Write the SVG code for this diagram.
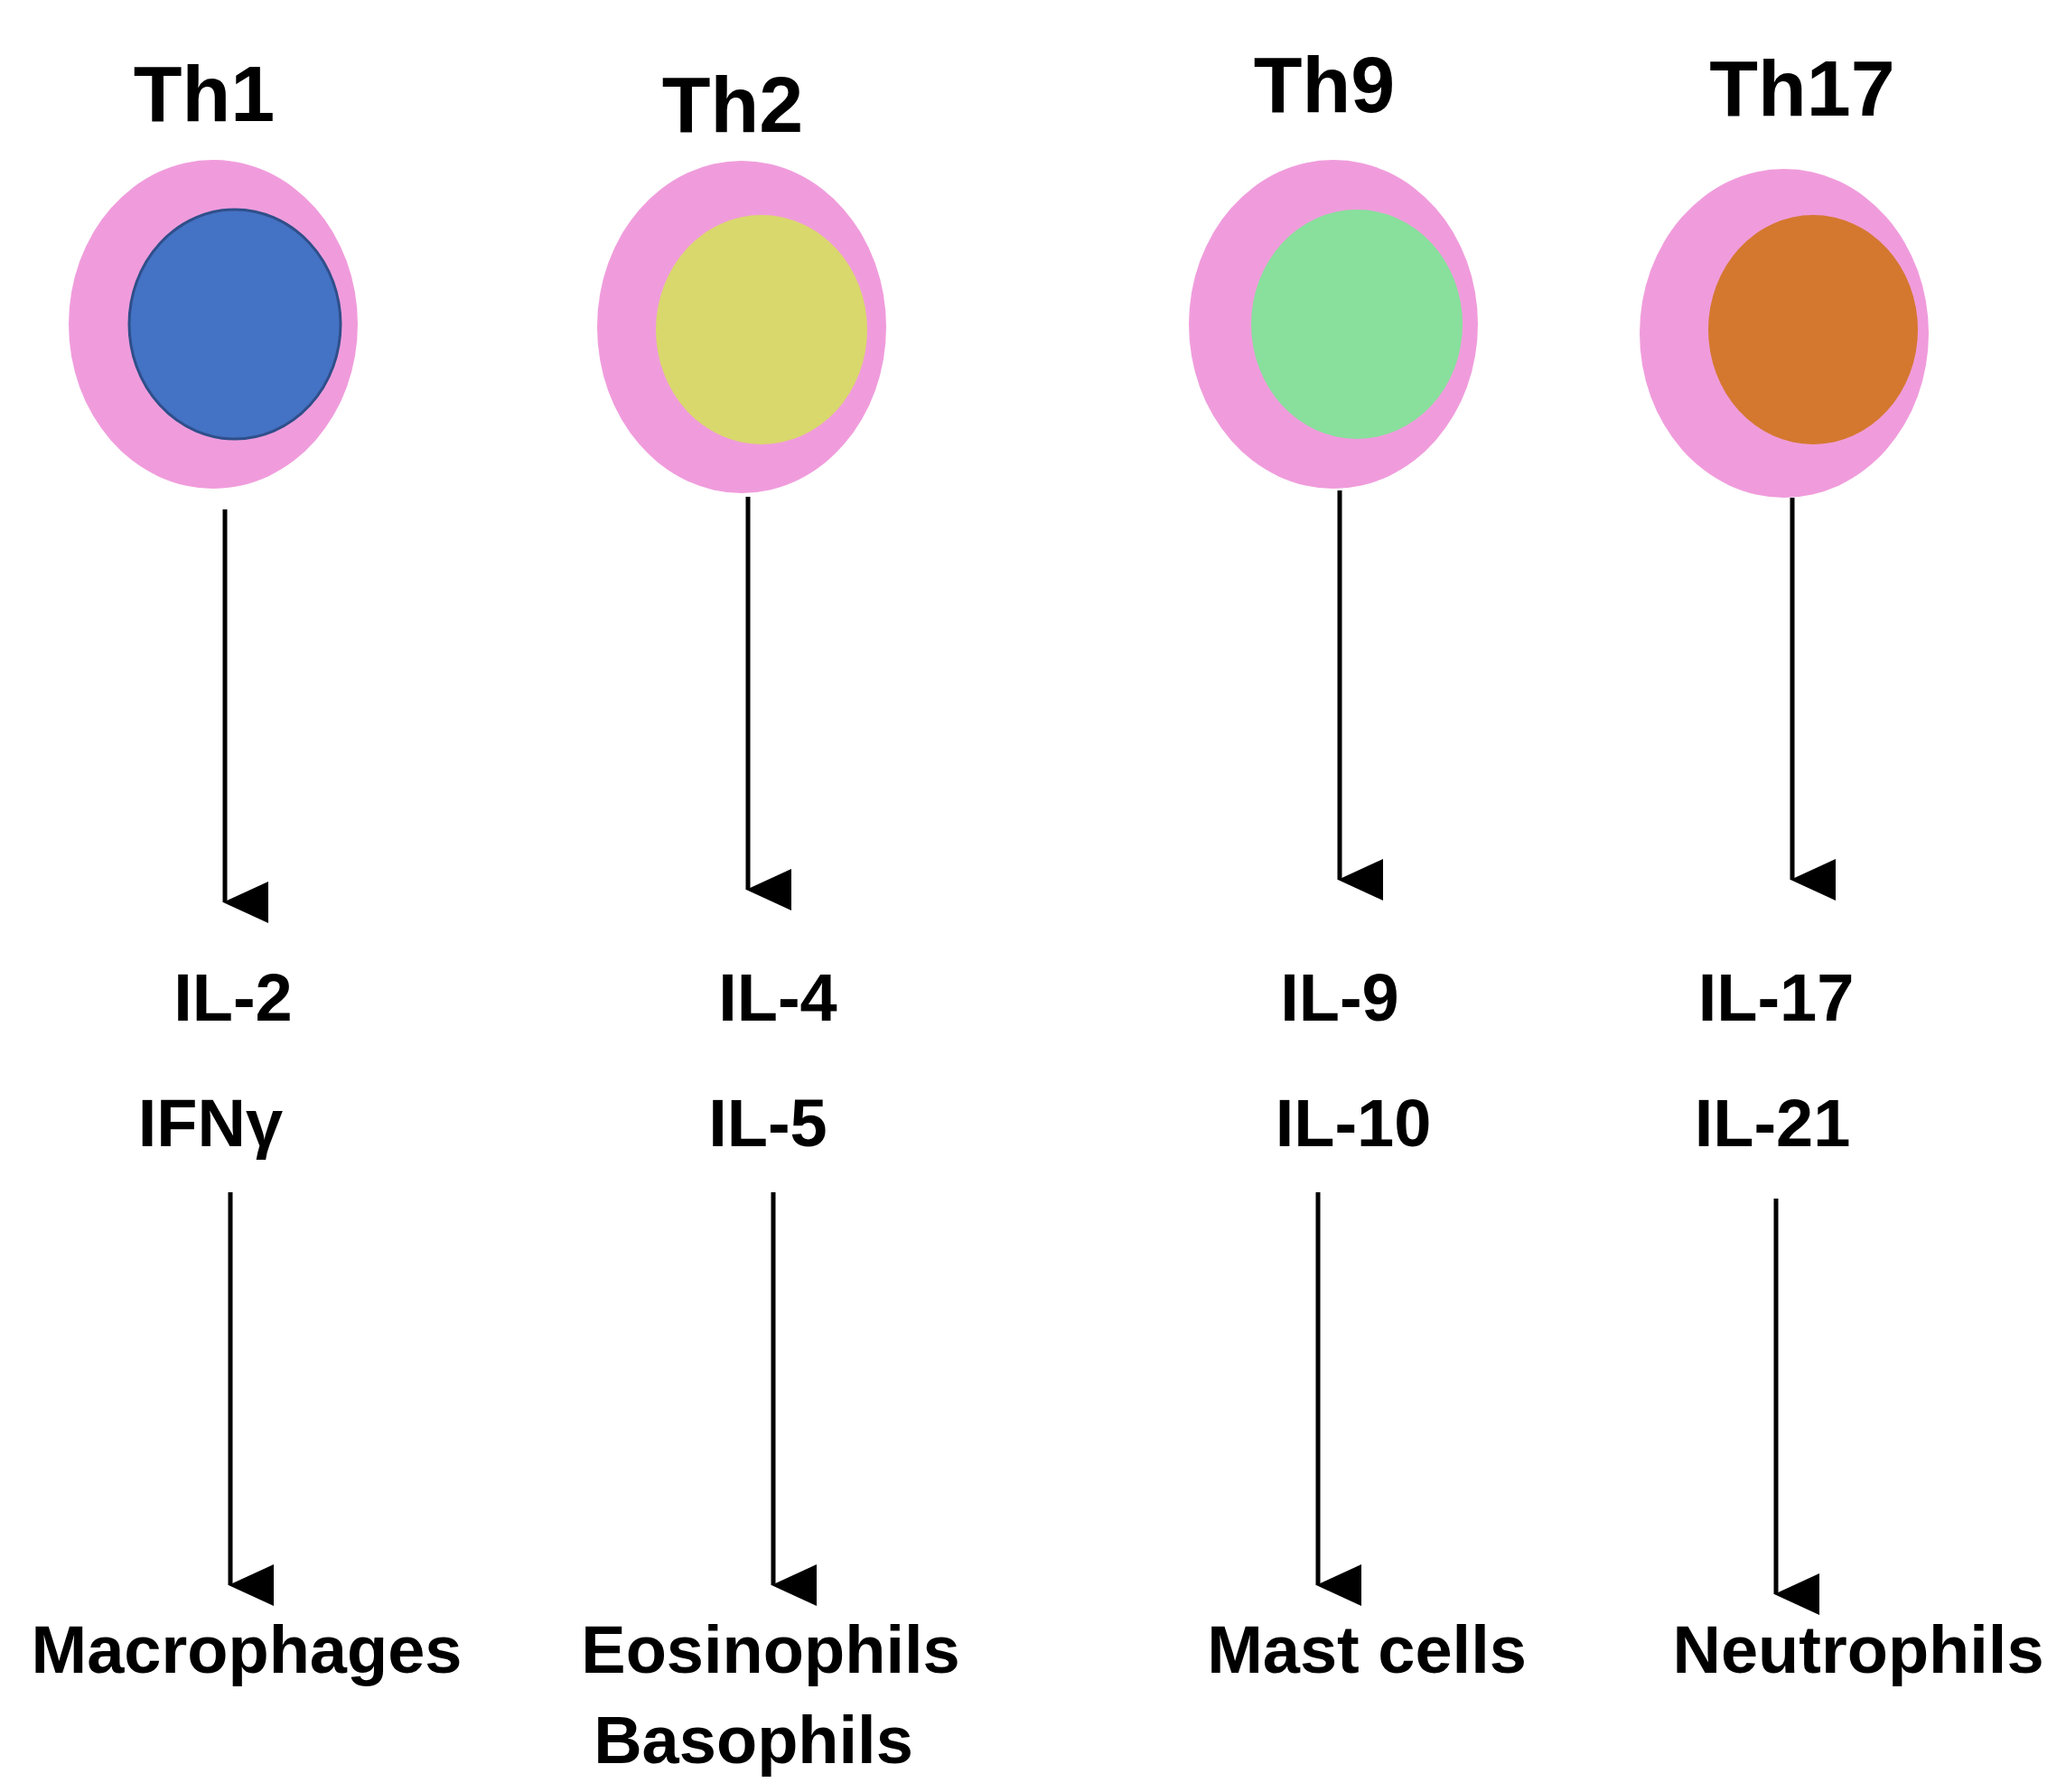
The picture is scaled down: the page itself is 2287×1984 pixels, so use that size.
<svg xmlns="http://www.w3.org/2000/svg" width="2287" height="1984" viewBox="0 0 2287 1984">
<style>
.t{font-family:"Liberation Sans",Arial,sans-serif;font-weight:bold;fill:#000;text-anchor:middle}
.h{font-size:88px}.l{font-size:74px}
.o{fill:#F09CDC}
.c{stroke:#000;stroke-width:5;fill:none;marker-end:url(#a)}
</style>
<defs><marker id="a" markerUnits="userSpaceOnUse" markerWidth="46" markerHeight="50" refX="23" refY="48" orient="auto-start-reverse" viewBox="0 0 46 50"><path d="M0,0 L46,0 L23,50 Z" fill="#000" transform="rotate(0)"/></marker></defs>
<rect width="2287" height="1984" fill="#fff"/>
<g id="th1"><text class="t h" x="226" y="134">Th1</text><ellipse class="o" cx="236" cy="359" rx="160" ry="182"/><ellipse cx="260" cy="359" rx="117" ry="127" fill="#4472C4" stroke="#2F4F8A" stroke-width="3"/></g>
<g id="th2"><text class="t h" x="811" y="146">Th2</text><ellipse class="o" cx="821" cy="362" rx="160" ry="184"/><ellipse cx="843" cy="365" rx="117" ry="127" fill="#D9D86C"/></g>
<g id="th9"><text class="t h" x="1466" y="124">Th9</text><ellipse class="o" cx="1476" cy="359" rx="160" ry="182"/><ellipse cx="1502" cy="359" rx="117" ry="127" fill="#88E09C"/></g>
<g id="th17"><text class="t h" x="1995" y="128">Th17</text><ellipse class="o" cx="1975" cy="369" rx="160" ry="182"/><ellipse cx="2007" cy="365" rx="116" ry="127" fill="#D4782F"/></g>
<g id="cyto">
<text class="t l" x="258" y="1130">IL-2</text><text class="t l" x="233" y="1269">IFNγ</text>
<text class="t l" x="861" y="1130">IL-4</text><text class="t l" x="850" y="1269">IL-5</text>
<text class="t l" x="1483" y="1130">IL-9</text><text class="t l" x="1498" y="1269">IL-10</text>
<text class="t l" x="1966" y="1130">IL-17</text><text class="t l" x="1962" y="1269">IL-21</text>
</g>
<g id="targets">
<text class="t l" x="273" y="1852">Macrophages</text>
<text class="t l" x="853" y="1852">Eosinophils</text><text class="t l" x="834" y="1952">Basophils</text>
<text class="t l" x="1513" y="1852">Mast cells</text>
<text class="t l" x="2057" y="1852">Neutrophils</text>
</g>
<g id="connectors">
<line class="c" x1="249" y1="564" x2="249" y2="999"/>
<line class="c" x1="828" y1="550" x2="828" y2="985"/>
<line class="c" x1="1483" y1="543" x2="1483" y2="974"/>
<line class="c" x1="1984" y1="551" x2="1984" y2="974"/>
<line class="c" x1="255" y1="1320" x2="255" y2="1755"/>
<line class="c" x1="856" y1="1320" x2="856" y2="1755"/>
<line class="c" x1="1459" y1="1320" x2="1459" y2="1755"/>
<line class="c" x1="1966" y1="1327" x2="1966" y2="1765"/>
</g>
</svg>
